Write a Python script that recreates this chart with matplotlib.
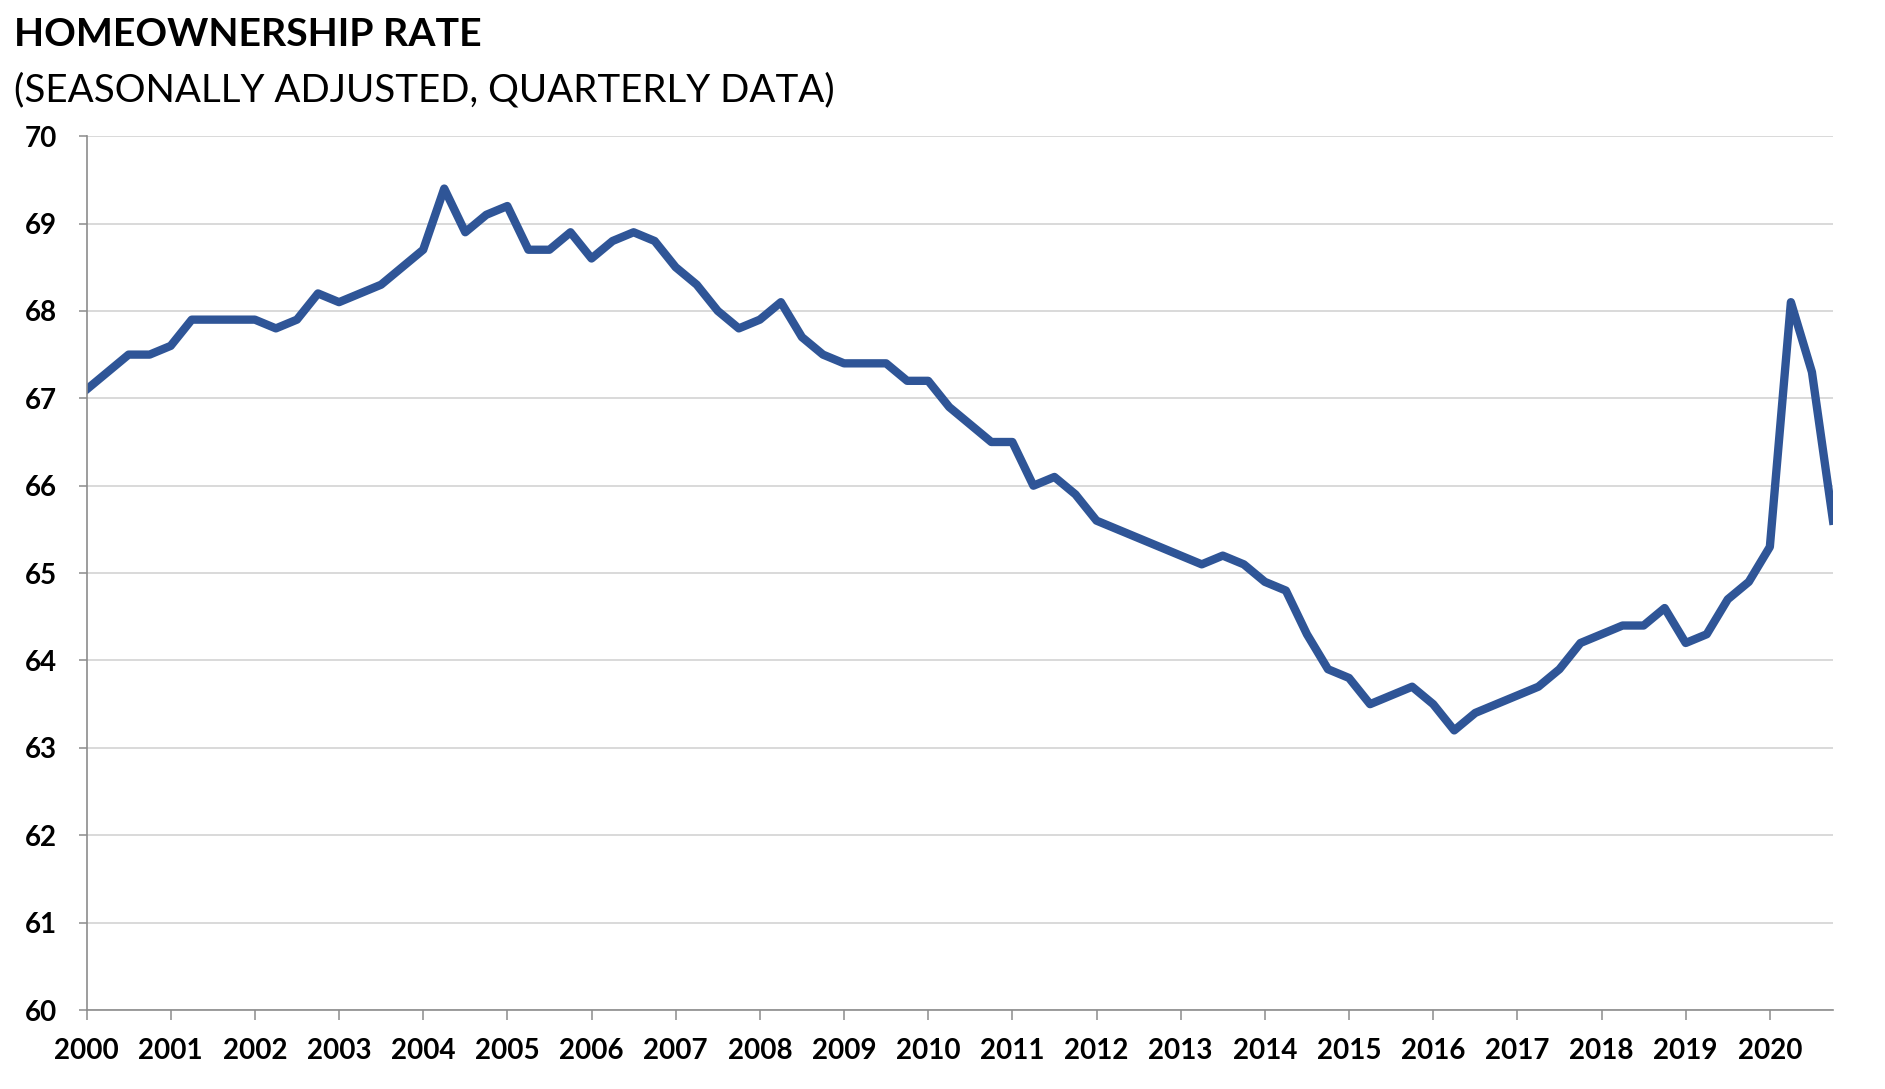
import numpy as np
import matplotlib.pyplot as plt

plt.rcParams['font.family'] = ['Lato', 'DejaVu Sans']

# quarterly homeownership rate, 2000Q1 .. 2020Q4 (seasonally adjusted)
rate = [67.1, 67.3, 67.5, 67.5,
        67.6, 67.9, 67.9, 67.9,
        67.9, 67.8, 67.9, 68.2,
        68.1, 68.2, 68.3, 68.5,
        68.7, 69.4, 68.9, 69.1,
        69.2, 68.7, 68.7, 68.9,
        68.6, 68.8, 68.9, 68.8,
        68.5, 68.3, 68.0, 67.8,
        67.9, 68.1, 67.7, 67.5,
        67.4, 67.4, 67.4, 67.2,
        67.2, 66.9, 66.7, 66.5,
        66.5, 66.0, 66.1, 65.9,
        65.6, 65.5, 65.4, 65.3,
        65.2, 65.1, 65.2, 65.1,
        64.9, 64.8, 64.3, 63.9,
        63.8, 63.5, 63.6, 63.7,
        63.5, 63.2, 63.4, 63.5,
        63.6, 63.7, 63.9, 64.2,
        64.3, 64.4, 64.4, 64.6,
        64.2, 64.3, 64.7, 64.9,
        65.3, 68.1, 67.3, 65.6]
start_year = 2000
years = list(range(2000, 2021))
yticks = list(range(60, 71))

t = start_year + np.arange(len(rate)) / 4

fig = plt.figure(figsize=(18.85, 10.89), dpi=100)
ax = fig.add_axes([0.0459, 0.0725, 0.9265, 0.8025])

ax.plot(t, rate, color='#2F5597', lw=6, solid_joinstyle='round')

ax.set_xlim(t[0], t[-1])
ax.set_ylim(60, 70)
ax.set_xticks(years)
ax.set_yticks(yticks)
ax.grid(axis='y', color='#D0D0D0', lw=1.1)
ax.set_axisbelow(True)

for s in ['top', 'right']:
    ax.spines[s].set_visible(False)
for s in ['left', 'bottom']:
    ax.spines[s].set_color('#8C8C8C')
    ax.spines[s].set_linewidth(1.2)

ax.tick_params(axis='y', length=6, width=1.1, color='#8C8C8C', pad=15,
               labelsize=20)
ax.tick_params(axis='x', length=7, width=1.1, color='#8C8C8C', pad=13,
               labelsize=20)
for lab in ax.get_xticklabels() + ax.get_yticklabels():
    lab.set_fontweight('bold')

fig.text(0.0074, 1 - 34 / 1089, 'HOMEOWNERSHIP RATE', fontsize=28.3,
         fontweight='bold', va='center', ha='left')
fig.text(0.0074, 1 - 90 / 1089, '(SEASONALLY ADJUSTED, QUARTERLY DATA)',
         fontsize=27.7, va='center', ha='left')

fig.savefig('out.png', dpi=100)
